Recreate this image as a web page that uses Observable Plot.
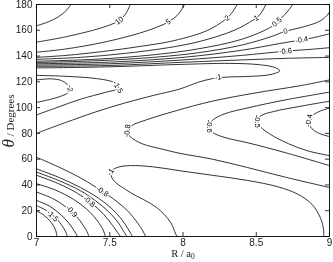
<!DOCTYPE html>
<html><head><meta charset="utf-8">
<script src="https://cdn.jsdelivr.net/npm/d3@7"></script>
<script src="https://cdn.jsdelivr.net/npm/@observablehq/plot@0.6"></script>
<style>body{margin:0;background:#fff;overflow:hidden} svg{will-change:transform} text{-webkit-font-smoothing:antialiased}</style>
</head><body><div id="chart"></div>
<script>
// axis ticks
const xTicks = [7, 7.5, 8, 8.5, 9];
const yTicks = [0, 20, 40, 60, 80, 100, 120, 140, 160, 180];

// contour lines: [R (a0), theta (deg)]
const cA = [[7,163.5],[7.08,166.5],[7.15,170.5],[7.2,175],[7.235,180]];
const c10 = [[7,150.8],[7.19,154.7],[7.42,161.1],[7.52,165],[7.565,167.6],[7.61,173],[7.64,180]];
const c5 = [[7,143],[7.2,145.5],[7.45,150.5],[7.71,158],[7.85,163.7],[7.9,166.5],[7.96,171.5],[7.99,176],[8.01,180]];
const c2 = [[7,139],[7.2,140.5],[7.45,143.5],[7.71,147.5],[7.94,152],[8.165,159.8],[8.28,167.6],[8.33,173],[8.37,180]];
const c1 = [[7,137.5],[7.3,139],[7.6,142],[7.9,146.5],[8.12,151.5],[8.35,160],[8.48,168],[8.52,171.5],[8.55,176.5],[8.565,180]];
const c05 = [[7,136],[7.4,137.5],[7.8,141],[8.1,145.5],[8.4,153],[8.6,162.5],[8.64,166.5],[8.69,171.5],[8.73,177],[8.75,180]];
const c0 = [[7,135],[7.4,136.3],[7.8,139],[8.1,142.5],[8.4,148.5],[8.6,155],[8.7,159.3],[8.8,162],[8.92,166.3],[8.97,170],[9,174]];
const cM04 = [[7,134],[7.5,135.3],[8,139],[8.4,144.5],[8.65,149.5],[8.81,152.6],[8.9,154.5],[9,157.3]];
const cM06 = [[7,133],[7.5,134],[8,137],[8.4,140.5],[8.7,143.8],[8.88,145.3],[9,146.5]];
const cM08 = [[7,132],[7.5,132.7],[8,135.2],[8.4,137],[8.7,138.2],[9,139]];
const cM1a = [[7,130.8],[7.3,131.2],[7.6,132],[7.98,133.5],[8.32,134.3],[8.52,133.3],[8.63,131],[8.66,128.5],[8.6,125.7],[8.45,124.2],[8.3,123.7],[8.2,122.5],[8.1,119.5],[7.98,114.5],[7.8,109.5],[7.6,103.5],[7.4,96.5],[7.2,88.5],[7.08,83.5],[7,80]];
const cM15 = [[7,125],[7.2,124.3],[7.41,122.5],[7.52,120],[7.56,117],[7.55,114.5],[7.47,111.8],[7.3,106.5],[7.15,100.5],[7,94.3]];
const cM2 = [[7,121.5],[7.1,122.3],[7.17,121],[7.21,118],[7.23,114.5],[7.215,111.5],[7.17,109],[7.09,106.3],[7,104]];
const cM08c = [[9,121.5],[8.8,117],[8.5,111.5],[8.2,105],[7.95,97.5],[7.75,90.5],[7.65,86],[7.62,82],[7.64,77.5],[7.72,72],[7.85,68],[7.98,64.5],[8.2,60],[8.44,53.5],[8.7,46],[9,38]];
const cM06c = [[9,112],[8.7,106],[8.45,100],[8.28,95],[8.2,90],[8.18,85.5],[8.2,81],[8.28,77],[8.45,72.5],[8.7,65],[9,55]];
const cM05c = [[9,105],[8.8,101],[8.62,97],[8.53,93.5],[8.51,89.5],[8.53,85],[8.6,79],[8.72,72],[8.85,66.5],[9,62.7]];
const cM04c = [[9,99.5],[8.94,97.5],[8.885,94],[8.86,90],[8.87,85],[8.92,80.5],[9,77.5]];
const cM1b = [[8.96,0],[8.96,5],[8.94,14],[8.88,25],[8.78,33],[8.65,38.5],[8.44,43.5],[8.2,47.5],[7.98,51],[7.8,54],[7.64,55],[7.55,53.5],[7.505,50],[7.51,47],[7.53,43],[7.64,34.2],[7.82,22.5],[7.915,11],[7.95,2],[7.96,0]];
const cL1 = [[7,61.5],[7.15,54],[7.3,45.5],[7.45,35],[7.55,27],[7.63,19],[7.69,10.5],[7.73,3.5],[7.745,0]];
const cL2 = [[7,52.5],[7.15,46],[7.3,38],[7.42,30],[7.51,22],[7.58,13.5],[7.63,5],[7.655,0]];
const cL3 = [[7,50],[7.15,43.5],[7.3,35.5],[7.4,28],[7.49,19.5],[7.56,10.5],[7.6,3],[7.618,0]];
const cL4 = [[7,47.5],[7.15,41],[7.28,33.5],[7.38,25.5],[7.46,17],[7.52,8.5],[7.56,2],[7.573,0]];
const cL5 = [[7,41],[7.13,36],[7.25,29],[7.34,21.5],[7.41,13],[7.455,5],[7.47,0]];
const cL6 = [[7,34.5],[7.11,29.5],[7.2,23],[7.27,16],[7.32,8.5],[7.35,2.5],[7.357,0]];
const cL7 = [[7,28],[7.09,23.5],[7.16,17.5],[7.22,10.5],[7.26,4],[7.28,0]];
const cL8 = [[7,24],[7.07,20],[7.13,14.5],[7.18,7.5],[7.205,2],[7.21,0]];
const cL9 = [[7,20],[7.05,16.5],[7.1,11],[7.13,5],[7.14,0]];

const contours = {cA, c10, c5, c2, c1, c05, c0, cM04, cM06, cM08, cM1a, cM15, cM2,
  cM08c, cM06c, cM05c, cM04c, cM1b, cL1, cL2, cL3, cL4, cL5, cL6, cL7, cL8, cL9};

// contour labels: text, line, position
const labelText = ["10","5","2","1","0.5","0","-0.4","-0.6","-2","-1.5","-1","-0.8","-0.6","-0.5","-0.4","-1","-0.8","-0.8","-0.9","-1.5"];
const labelLine = ["c10","c5","c2","c1","c05","c0","cM04","cM06","cM2","cM15","cM1a","cM08c","cM06c","cM05c","cM04c","cM1b","cL1","cL4","cL6","cL8"];
const labelR =  [7.565,7.9,8.3,8.5,8.64,8.7,8.81,8.7,7.228,7.556,8.24,7.62,8.18,8.51,8.86,7.505,7.45,7.36,7.24,7.11];
const labelTh = [167.6,166.5,169.5,169.5,166.5,159.3,152.6,143.8,115,116,123.5,82,85.5,89.5,90,50,35,27.2,19.5,16];

const rows = Object.entries(contours).flatMap(([id, pts]) => pts.map(([R, th]) => ({id, R, th})));

function build(labelRows) {
  const fw = 333 - 36 - 4, fh = 262 - 4 - 26;
  return Plot.plot({
    width: 333, height: 262,
    marginLeft: 36, marginRight: 4, marginTop: 4, marginBottom: 26,
    x: {domain: [7, 9]},
    y: {domain: [0, 180]},
    style: {fontFamily: "'Liberation Sans', Arial, sans-serif", fontSize: "10px", color: "#222", background: "#fff", overflow: "visible"},
    marks: [
      Plot.line(rows, {x: "R", y: "th", z: "id", stroke: "#000", strokeWidth: 0.8, curve: "catmull-rom"}),
      labelRows ? Plot.text(labelRows, {x: "R", y: "th", text: "text", rotate: "angle", fontSize: 7.5, fill: "none", stroke: "#fff", strokeWidth: 2.5}) : null,
      labelRows ? Plot.text(labelRows, {x: "R", y: "th", text: "text", rotate: "angle", fontSize: 7.5, fill: "#000"}) : null,
      Plot.tickX(xTicks, {x: d => d, insetTop: fh - 4, stroke: "#000", strokeWidth: 0.8}),
      Plot.tickX(xTicks, {x: d => d, insetBottom: fh - 4, stroke: "#000", strokeWidth: 0.8}),
      Plot.tickY(yTicks, {y: d => d, insetLeft: fw - 4, stroke: "#000", strokeWidth: 0.8}),
      Plot.tickY(yTicks, {y: d => d, insetRight: fw - 4, stroke: "#000", strokeWidth: 0.8}),
      Plot.axisX({ticks: xTicks, tickSize: 0, tickPadding: 2, label: null, tickFormat: d => String(d)}),
      Plot.axisY({ticks: yTicks, tickSize: 0, tickPadding: 4, label: null}),
      Plot.frame({stroke: "#000", strokeWidth: 0.9})
    ]
  });
}

const p0 = build(null);
const sx = p0.scale("x"), sy = p0.scale("y");
const labelRows = labelText.map((text, i) => {
  const pts = contours[labelLine[i]];
  const R = labelR[i], th = labelTh[i];
  let best = 0, bd = Infinity;
  pts.forEach(([r, t], j) => {
    const d = (sx.apply(r) - sx.apply(R)) ** 2 + (sy.apply(t) - sy.apply(th)) ** 2;
    if (d < bd) { bd = d; best = j; }
  });
  const a = pts[Math.max(0, best - 1)], b = pts[Math.min(pts.length - 1, best + 1)];
  const dx = sx.apply(b[0]) - sx.apply(a[0]), dy = sy.apply(b[1]) - sy.apply(a[1]);
  let angle = Math.atan2(dy, dx) * 180 / Math.PI;
  if (angle > 90) angle -= 180;
  if (angle < -90) angle += 180;
  return {text, R, th, angle};
});

const plot = build(labelRows);
const svg = d3.select(plot);
const yl = svg.append("text")
  .attr("transform", "translate(14,121) rotate(-90)")
  .attr("text-anchor", "middle")
  .attr("font-family", "'Liberation Serif', 'Times New Roman', serif")
  .attr("fill", "#222");
yl.append("tspan").attr("font-size", 17).attr("font-style", "italic").text("θ");
yl.append("tspan").attr("font-size", 11).text(" / Degrees");
const xl = svg.append("text")
  .attr("x", 183).attr("y", 257)
  .attr("text-anchor", "middle")
  .attr("font-family", "'Liberation Serif', 'Times New Roman', serif")
  .attr("font-size", 10.5)
  .attr("fill", "#222");
xl.append("tspan").text("R / a");
xl.append("tspan").attr("font-size", 7.5).attr("dy", 2).text("0");
document.getElementById("chart").appendChild(plot);
</script>
</body></html>
